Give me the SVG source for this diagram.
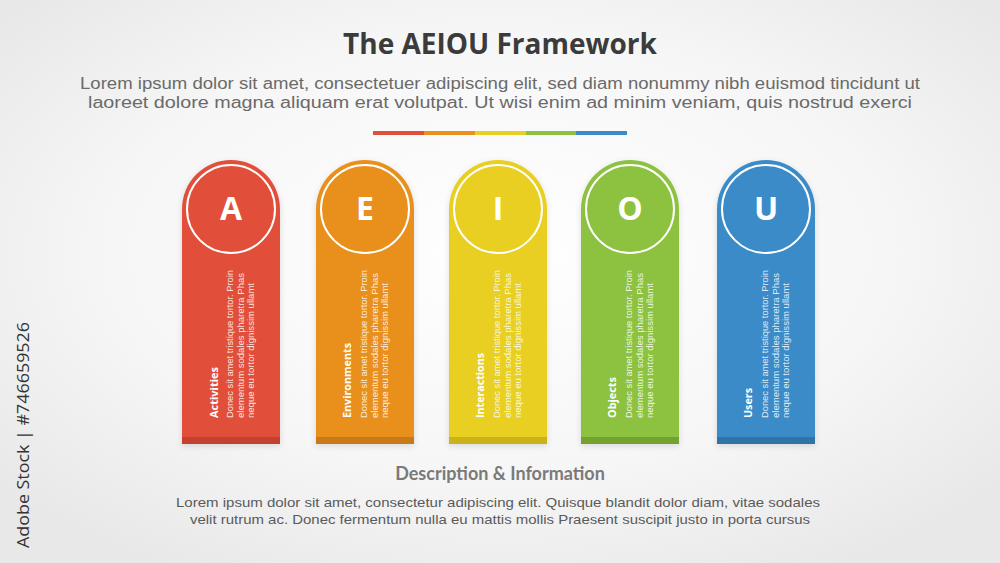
<svg xmlns="http://www.w3.org/2000/svg" width="1000" height="563" viewBox="0 0 1000 563">
<defs>
<radialGradient id="bg" cx="50%" cy="45%" r="65%">
<stop offset="0" stop-color="#ffffff"/>
<stop offset="0.6" stop-color="#f6f6f6"/>
<stop offset="1" stop-color="#e8e8e8"/>
</radialGradient>
<filter id="sh" x="-20%" y="-10%" width="140%" height="125%">
<feDropShadow dx="0" dy="2" stdDeviation="3" flood-color="#000" flood-opacity="0.12"/>
</filter>
</defs>
<style>
.title{font-family:"Open Sans","Liberation Sans",sans-serif;font-weight:700;font-size:28px;fill:#3b3b3b;text-anchor:middle}
.sub{font-family:"Liberation Sans","DejaVu Sans",sans-serif;font-size:16px;fill:#6a6a6a;text-anchor:middle}
.h2{font-family:Lato,"Liberation Sans",sans-serif;font-weight:700;font-size:18px;fill:#7a7a7a;text-anchor:middle}
.desc{font-family:"Liberation Sans","DejaVu Sans",sans-serif;font-size:13px;fill:#5a5a5a;text-anchor:middle}
.letter{font-family:"Open Sans","Liberation Sans",sans-serif;font-weight:700;font-size:32px;fill:#ffffff;text-anchor:middle}
.ring{fill:none;stroke:#ffffff;stroke-width:2}
.ct{font-family:"Open Sans","Liberation Sans",sans-serif;font-weight:700;font-size:11px;fill:#ffffff}
.cb{font-family:"Liberation Sans","DejaVu Sans",sans-serif;font-size:8.3px;fill:#ffffff;fill-opacity:0.85}
.stock{font-family:"Open Sans","Liberation Sans",sans-serif;font-size:16px;fill:#333333}
</style>
<rect width="1000" height="563" fill="url(#bg)"/>

<g id="header">
<text class="title" x="500" y="54">The AEIOU Framework</text>
<text class="sub" x="500" y="89" textLength="840" lengthAdjust="spacingAndGlyphs">Lorem ipsum dolor sit amet, consectetuer adipiscing elit, sed diam nonummy nibh euismod tincidunt ut</text>
<text class="sub" x="500" y="108" textLength="824" lengthAdjust="spacingAndGlyphs">laoreet dolore magna aliquam erat volutpat. Ut wisi enim ad minim veniam, quis nostrud exerci</text>
<rect x="373" y="131" width="51" height="4" fill="#E1503A"/>
<rect x="424" y="131" width="51" height="4" fill="#E9901F"/>
<rect x="475" y="131" width="51" height="4" fill="#E8CF21"/>
<rect x="526" y="131" width="50" height="4" fill="#8CC23F"/>
<rect x="576" y="131" width="51" height="4" fill="#3A8BC8"/>
</g>

<g id="node-A">
<path d="M182,444 V209 A49,49 0 0 1 280,209 V444 Z" fill="#E1503A" filter="url(#sh)"/>
<rect x="182" y="437" width="98" height="7" fill="#C4412F"/>
<circle class="ring" cx="231" cy="209" r="44"/>
<text class="letter" x="231" y="220">A</text>
<text class="ct" x="218" y="418" transform="rotate(-90 218 418)" textLength="51" lengthAdjust="spacingAndGlyphs">Activities</text>
<text class="cb" x="233" y="418" transform="rotate(-90 233 418)" textLength="148" lengthAdjust="spacingAndGlyphs">Donec sit amet tristique tortor. Proin</text>
<text class="cb" x="243.5" y="418" transform="rotate(-90 243.5 418)" textLength="145" lengthAdjust="spacingAndGlyphs">elementum sodales pharetra Phas</text>
<text class="cb" x="254" y="418" transform="rotate(-90 254 418)" textLength="135" lengthAdjust="spacingAndGlyphs">neque eu tortor dignissim ullamt</text>
</g>

<g id="node-E">
<path d="M316,444 V209 A49,49 0 0 1 414,209 V444 Z" fill="#E9901F" filter="url(#sh)"/>
<rect x="316" y="437" width="98" height="7" fill="#C97A18"/>
<circle class="ring" cx="365" cy="209" r="44"/>
<text class="letter" x="365" y="220">E</text>
<text class="ct" x="351" y="418" transform="rotate(-90 351 418)" textLength="75" lengthAdjust="spacingAndGlyphs">Environments</text>
<text class="cb" x="367" y="418" transform="rotate(-90 367 418)" textLength="148" lengthAdjust="spacingAndGlyphs">Donec sit amet tristique tortor. Proin</text>
<text class="cb" x="377.5" y="418" transform="rotate(-90 377.5 418)" textLength="145" lengthAdjust="spacingAndGlyphs">elementum sodales pharetra Phas</text>
<text class="cb" x="388" y="418" transform="rotate(-90 388 418)" textLength="135" lengthAdjust="spacingAndGlyphs">neque eu tortor dignissim ullamt</text>
</g>

<g id="node-I">
<path d="M449,444 V209 A49,49 0 0 1 547,209 V444 Z" fill="#E8CF21" filter="url(#sh)"/>
<rect x="449" y="437" width="98" height="7" fill="#CBB21A"/>
<circle class="ring" cx="498" cy="209" r="44"/>
<text class="letter" x="498" y="220">I</text>
<text class="ct" x="484" y="418" transform="rotate(-90 484 418)" textLength="65" lengthAdjust="spacingAndGlyphs">Interactions</text>
<text class="cb" x="500" y="418" transform="rotate(-90 500 418)" textLength="148" lengthAdjust="spacingAndGlyphs">Donec sit amet tristique tortor. Proin</text>
<text class="cb" x="510.5" y="418" transform="rotate(-90 510.5 418)" textLength="145" lengthAdjust="spacingAndGlyphs">elementum sodales pharetra Phas</text>
<text class="cb" x="521" y="418" transform="rotate(-90 521 418)" textLength="135" lengthAdjust="spacingAndGlyphs">neque eu tortor dignissim ullamt</text>
</g>

<g id="node-O">
<path d="M581,444 V209 A49,49 0 0 1 679,209 V444 Z" fill="#8CC23F" filter="url(#sh)"/>
<rect x="581" y="437" width="98" height="7" fill="#73A232"/>
<circle class="ring" cx="630" cy="209" r="44"/>
<text class="letter" x="630" y="220">O</text>
<text class="ct" x="616" y="418" transform="rotate(-90 616 418)" textLength="41" lengthAdjust="spacingAndGlyphs">Objects</text>
<text class="cb" x="632" y="418" transform="rotate(-90 632 418)" textLength="148" lengthAdjust="spacingAndGlyphs">Donec sit amet tristique tortor. Proin</text>
<text class="cb" x="642.5" y="418" transform="rotate(-90 642.5 418)" textLength="145" lengthAdjust="spacingAndGlyphs">elementum sodales pharetra Phas</text>
<text class="cb" x="653" y="418" transform="rotate(-90 653 418)" textLength="135" lengthAdjust="spacingAndGlyphs">neque eu tortor dignissim ullamt</text>
</g>

<g id="node-U">
<path d="M717,444 V209 A49,49 0 0 1 815,209 V444 Z" fill="#3A8BC8" filter="url(#sh)"/>
<rect x="717" y="437" width="98" height="7" fill="#2F73A8"/>
<circle class="ring" cx="766" cy="209" r="44"/>
<text class="letter" x="766" y="220">U</text>
<text class="ct" x="752" y="418" transform="rotate(-90 752 418)" textLength="30" lengthAdjust="spacingAndGlyphs">Users</text>
<text class="cb" x="768" y="418" transform="rotate(-90 768 418)" textLength="148" lengthAdjust="spacingAndGlyphs">Donec sit amet tristique tortor. Proin</text>
<text class="cb" x="778.5" y="418" transform="rotate(-90 778.5 418)" textLength="145" lengthAdjust="spacingAndGlyphs">elementum sodales pharetra Phas</text>
<text class="cb" x="789" y="418" transform="rotate(-90 789 418)" textLength="135" lengthAdjust="spacingAndGlyphs">neque eu tortor dignissim ullamt</text>
</g>

<g id="connectors"></g>

<g id="footer">
<text class="h2" x="500" y="480">Description &amp; Information</text>
<text class="desc" x="498" y="507" textLength="644" lengthAdjust="spacingAndGlyphs">Lorem ipsum dolor sit amet, consectetur adipiscing elit. Quisque blandit dolor diam, vitae sodales</text>
<text class="desc" x="500" y="524" textLength="620" lengthAdjust="spacingAndGlyphs">velit rutrum ac. Donec fermentum nulla eu mattis mollis Praesent suscipit justo in porta cursus</text>
</g>

<text class="stock" x="29" y="548" transform="rotate(-90 29 548)" textLength="226" lengthAdjust="spacingAndGlyphs">Adobe Stock | #746659526</text>
</svg>
